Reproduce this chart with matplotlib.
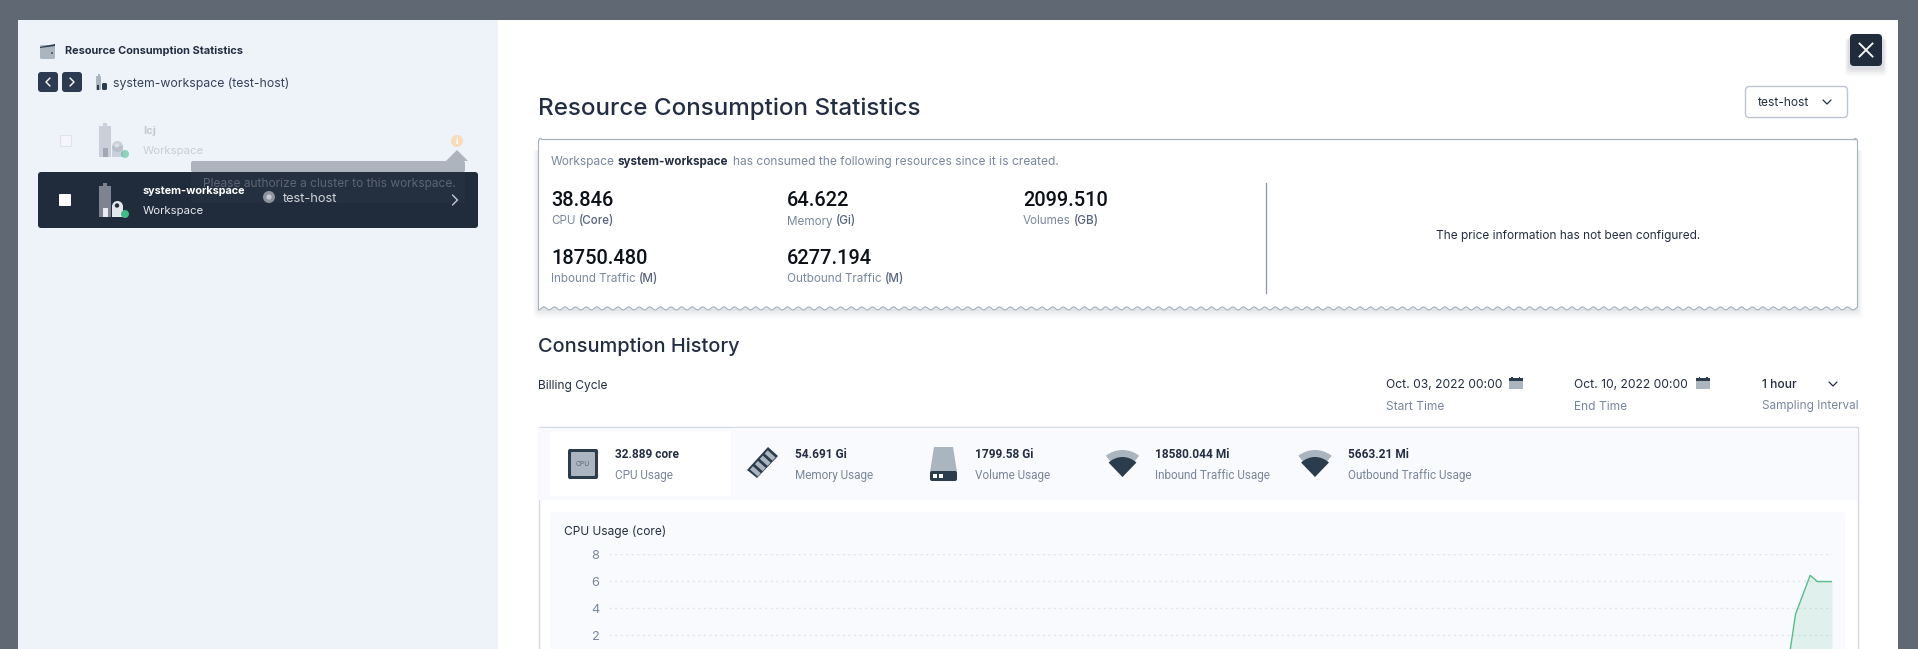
import matplotlib
matplotlib.use("Agg")
import matplotlib.pyplot as plt
import numpy as np
from matplotlib.patches import Rectangle, FancyBboxPatch, Polygon, Circle, Wedge

plt.rcParams['font.family'] = ['Inter', 'DejaVu Sans']
NUM_FONT = ['Roboto', 'DejaVu Sans']

# ---- data ----
hours = [0, 162, 163, 165, 166, 168]
cpu_usage = [0, 0, 3.58, 6.44, 5.98, 5.98]
y_ticks = [2, 4, 6, 8]
summary_values = ['38.846', '64.622', '2099.510', '18750.480', '6277.194']
summary_names = ['CPU', 'Memory', 'Volumes', 'Inbound Traffic', 'Outbound Traffic']
summary_units = ['(Core)', '(Gi)', '(GB)', '(M)', '(M)']
tab_values = ['32.889 core', '54.691 Gi', '1799.58 Gi', '18580.044 Mi', '5663.21 Mi']
tab_names = ['CPU Usage', 'Memory Usage', 'Volume Usage', 'Inbound Traffic Usage', 'Outbound Traffic Usage']

W, H = 1918, 649
DARK = '#202b3c'
TXT = '#242e42'
MUTE = '#79879c'
ICON_G = '#abb5bf'
ICON_D = '#2b3c4d'

fig = plt.figure(figsize=(W / 100, H / 100), dpi=100, facecolor='#5f6873')
bg = fig.add_axes([0, 0, 1, 1])
bg.set_xlim(0, W)
bg.set_ylim(H, 0)
bg.axis('off')


def rect(x0, y0, x1, y1, fc='none', ec='none', lw=0, r=0, z=1, alpha=None):
    if r:
        p = FancyBboxPatch((x0 + r, y0 + r), x1 - x0 - 2 * r, y1 - y0 - 2 * r,
                           boxstyle=f'round,pad={r},rounding_size={r}',
                           fc=fc, ec=ec, lw=lw, zorder=z, alpha=alpha)
    else:
        p = Rectangle((x0, y0), x1 - x0, y1 - y0, fc=fc, ec=ec, lw=lw, zorder=z, alpha=alpha)
    bg.add_patch(p)
    return p


def text(x, y, s, size=8.6, color=TXT, weight='normal', ha='left', z=6, alpha=None, family=None):
    return bg.text(x, y, s, fontsize=size, color=color, fontweight=weight, ha=ha,
                   va='center_baseline', zorder=z, alpha=alpha, family=family)


def chevron(cx, cy, d, s=4, color='white', lw=1.0, z=6):
    if d == 'l':
        xs, ys = [cx + s / 2, cx - s / 2, cx + s / 2], [cy - s, cy, cy + s]
    elif d == 'r':
        xs, ys = [cx - s / 2, cx + s / 2, cx - s / 2], [cy - s, cy, cy + s]
    else:
        xs, ys = [cx - s, cx, cx + s], [cy - s / 2, cy + s / 2, cy - s / 2]
    bg.plot(xs, ys, color=color, lw=lw, zorder=z, solid_capstyle='round')


def building(x, y, light=False, alpha=1.0, z=4):
    body = '#abb5bf' if not light else '#7d848f'
    lock = '#abb5bf' if not light else '#e3e6ea'
    bg.add_patch(Polygon([(x, y + 3), (x + 4, y + 3), (x + 4, y), (x + 8, y), (x + 8, y + 3),
                          (x + 12, y + 3), (x + 12, y + 34), (x, y + 34)],
                         fc=body, zorder=z, alpha=alpha))
    rect(x + 4, y + 25, x + 9, y + 34, fc='#e9ebee' if light else '#7f8a96', z=z + 1, alpha=alpha)
    rect(x + 13, y + 23, x + 24, y + 34, fc=lock, z=z + 1, alpha=alpha)
    bg.add_patch(Circle((x + 18.5, y + 23.5), 5.5, fc=lock, zorder=z + 1, alpha=alpha))
    bg.add_patch(Circle((x + 18, y + 22.5), 2.2, fc=DARK if light else '#eef2f9', zorder=z + 2, alpha=alpha))
    bg.add_patch(Circle((x + 26, y + 31), 4, fc='#3ebd86', zorder=z + 2, alpha=alpha))


# ---- panels ----
rect(18, 20, 498, H, fc='#eef2f9')
rect(498, 20, 1898, H, fc='white')

# ---- left side ----
rect(40, 45, 55, 59, fc=ICON_G, r=1.5, z=3)
bg.add_patch(Polygon([(40, 47), (55, 44), (55, 46), (40, 48)], fc=ICON_D, zorder=4))
bg.add_patch(Circle((52, 53), 0.9, fc=ICON_D, zorder=4))
text(65, 50, 'Resource Consumption Statistics', size=7.9, weight='bold')

for x0 in (38, 62):
    rect(x0, 72, x0 + 20, 92, fc='#2c3a52', r=3, z=3)
chevron(48, 82, 'l', s=4)
chevron(72, 82, 'r', s=4)
rect(96, 76, 101, 90, fc=ICON_G, r=1, z=3)
rect(97.5, 74, 99.5, 77, fc=ICON_G, z=3)
rect(97, 85, 99, 90, fc=ICON_D, z=4)
rect(102, 83, 107, 90, fc=ICON_D, r=1.5, z=4)
text(113, 82, 'system-workspace (test-host)', size=8.85, color='#36435c')

# faded row
rect(59.5, 134.5, 70.5, 145.5, fc='#f4f6fb', ec='#dfe3ea', lw=0.8, z=3)
building(99, 123, alpha=0.55)
text(143, 130, 'lcj', size=8.2, color='#c4cad3', weight='bold')
text(143, 150, 'Workspace', size=8.2, color='#c9ced7')
bg.add_patch(Circle((457, 141), 6, fc='#f7dcbc', zorder=3))
text(457, 141, 'i', size=6.5, color='white', weight='bold', ha='center')

# active row
rect(38, 172, 478, 228, fc=DARK, r=3, z=2)
rect(59, 194, 71, 206, fc='white', r=1, z=3)
building(99, 183, light=True)
text(143, 190, 'system-workspace', size=7.85, color='white', weight='bold')
text(143, 210, 'Workspace', size=8.2, color='#e6e9ee')
bg.add_patch(Circle((269, 197), 6, fc='#8c929c', zorder=4))
bg.add_patch(Circle((269, 197), 2.6, fc='#c5c8cd', zorder=5))
text(283, 198, 'test-host', size=9.2, color='#cfd3d9')
chevron(455, 200, 'r', s=5, color='#c5c8cd')

# tooltip
rect(191, 161, 465, 172, fc='#adb4be', r=2, z=5)
rect(191, 172, 465, 203, fc='white', z=5, alpha=0.02)
bg.add_patch(Polygon([(446, 161), (457, 150), (468, 161)], fc='#adb4be', zorder=5))
text(203, 183, 'Please authorize a cluster to this workspace.', size=8.6, color='#5d6573')

# ---- header ----
for i, a in enumerate((0.05, 0.05, 0.04, 0.03)):
    rect(1850 - 2 - i, 38, 1882 + 2 + i, 70 + 2 * i, fc='#36435c', r=5, z=3, alpha=a)
rect(1850, 34, 1882, 66, fc=DARK, r=4, z=4)
bg.plot([1859.5, 1872.5], [43.5, 56.5], color='white', lw=1.3, zorder=5)
bg.plot([1859.5, 1872.5], [56.5, 43.5], color='white', lw=1.3, zorder=5)
text(538, 106, 'Resource Consumption Statistics', size=17.4, weight='medium')
rect(1745.5, 86.5, 1847.5, 117.5, fc='white', ec='#bcc5cf', lw=1.0, r=4, z=3)
text(1758, 102, 'test-host', size=8.6)
chevron(1827, 102, 'd', s=4, color=TXT, lw=0.9)

# ---- summary box (the torn lower edge is a decoration) ----
for i, a in enumerate((0.035, 0.03, 0.025, 0.02, 0.015, 0.01)):
    rect(538 - i, 150, 1858 + i, 311 + i * 1.5, fc='#36435c', r=3, z=2, alpha=a)
wave_x = np.arange(538.5, 1857.6, 0.5)
wave_y = 308.4 + 1.5 * np.cos((wave_x - 538.5) * 2 * np.pi / 10.6)
bg.fill(np.r_[538.5, wave_x, 1857.5], np.r_[140, wave_y, 140], fc='white', zorder=3)
rect(538.5, 138.5, 1857.5, 160, fc='white', ec='none', r=3, z=3)
bg.plot(np.r_[538.5, 538.5, wave_x, 1857.5, 1857.5], np.r_[141, wave_y[0], wave_y, wave_y[-1], 141],
        color='#a6b1bf', lw=0.8, zorder=4)
bg.plot([541, 1855], [138.5, 138.5], color='#a6b1bf', lw=0.9, zorder=4)
bg.plot([538.5, 539.2, 541], [141, 139.2, 138.5], color='#a6b1bf', lw=0.9, zorder=4)
bg.plot([1855, 1856.8, 1857.5], [138.5, 139.2, 141], color='#a6b1bf', lw=0.9, zorder=4)

text(551, 161, 'Workspace', size=8.6, color=MUTE)
text(618, 161, 'system-workspace', size=8.4, color=TXT, weight='bold')
text(733, 161, 'has consumed the following resources since it is created.', size=8.6, color=MUTE)
pos = [(551, 199), (787, 199), (1023, 199), (551, 256), (787, 256)]
for (x, y), v, n, u in zip(pos, summary_values, summary_names, summary_units):
    text(x, y, v, size=14.4, color='#0c1118', weight='medium', family=NUM_FONT)
    t = text(x, y + 21, n, size=8.4, color=MUTE)
    bb = t.get_window_extent(fig.canvas.get_renderer())
    text(bb.x1 + 3, y + 21, u, size=8.4, color='#55647c', weight='medium')
bg.plot([1266, 1266], [183, 293], color='#8d96a3', lw=0.9, zorder=4)
text(1568.5, 235, 'The price information has not been configured.', size=8.5, ha='center')

# ---- history ----
text(538, 345, 'Consumption History', size=14.35, weight='medium')
text(538, 384, 'Billing Cycle', size=8.6)
for x, v, lab, ix in ((1386.5, 'Oct. 03, 2022 00:00', 'Start Time', 1508.5),
                      (1574.5, 'Oct. 10, 2022 00:00', 'End Time', 1696)):
    text(x, 384, v, size=8.7)
    text(x, 405, lab, size=8.6, color=MUTE)
    rect(ix, 380, ix + 14, 389, fc=ICON_G, z=3)
    rect(ix, 378, ix + 14, 380.5, fc=ICON_D, z=4)
    rect(ix + 2.5, 377, ix + 4, 379, fc=ICON_D, z=4)
    rect(ix + 10, 377, ix + 11.5, 379, fc=ICON_D, z=4)
text(1762, 384, '1 hour', size=8.7, weight='medium')
chevron(1833, 384, 'd', s=4, color=TXT, lw=0.9)
text(1762, 404, 'Sampling Interval', size=8.5, color=MUTE)

# ---- chart box ----
rect(538.5, 427, 1857.5, H + 5, fc='white', ec='#d3dae2', lw=1.0, z=2)
rect(539, 427.5, 1857, 500, fc='#f8fafd', z=3)
rect(550, 431, 731, 496, fc='white', z=4)
rect(550, 512, 1845, H + 5, fc='#f9fafe', r=3, z=3)
text(564, 530, 'CPU Usage (core)', size=8.6)

tab_x = [615, 795, 975, 1155, 1348]
for x, v, n in zip(tab_x, tab_values, tab_names):
    text(x, 453, v, size=8.6, weight='bold', family=NUM_FONT)
    text(x, 474, n, size=8.45, color=MUTE, family=NUM_FONT)

# cpu icon
rect(568, 449, 598, 479, fc=ICON_D, r=2, z=5)
rect(571, 452, 595, 476, fc=ICON_G, r=1, z=6)
text(583, 464, 'CPU', size=4.8, color='#5e6b78', ha='center', z=7)
# memory icon
bg.add_patch(Polygon([(747, 470), (768, 447), (778, 456), (757, 478)], fc=ICON_D, zorder=5))
for k in range(4):
    dx, dy = 4.9 * k, -5.3 * k
    bg.add_patch(Polygon([(750 + dx, 469.5 + dy), (753 + dx, 466.2 + dy), (760.8 + dx, 473.2 + dy),
                          (757.8 + dx, 476.5 + dy)], fc=ICON_G, zorder=6))
# volume icon
bg.add_patch(Polygon([(934, 447), (953, 447), (957, 472), (930, 472)], fc=ICON_G, zorder=5))
rect(930, 471, 957, 481, fc=ICON_D, r=2, z=6)
rect(933, 474, 937, 478, fc='white', z=7)
rect(939, 474, 943, 478, fc='white', z=7)
# wifi icons
for cx, cy in ((1122.5, 477), (1315, 477)):
    bg.add_patch(Wedge((cx, cy), 27, 232, 308, fc=ICON_G, zorder=5))
    bg.add_patch(Wedge((cx, cy), 20, 226, 314, fc=ICON_D, zorder=6))

# ---- chart: y = 0 lies below the figure edge, as in the reference ----
px_per_unit = 13.5
y_top, y_zero = 554.3, 662.3
y_low = (y_zero - H) / px_per_unit
ax = fig.add_axes([609 / W, 0, (1832 - 609) / W, (H - y_top) / H], facecolor='none', zorder=10)
ax.set_xlim(0, 168)
ax.set_ylim(y_low, 8)
for s in ax.spines.values():
    s.set_visible(False)
ax.set_xticks([])
ax.set_yticks(y_ticks)
ax.tick_params(axis='y', length=0, pad=7, labelsize=9.2, labelcolor='#79879c')
ax.grid(axis='y', color='#e2e4e9', lw=1.0, linestyle=(0, (1.5, 2.5)))
ax.set_axisbelow(True)
for t in ax.get_yticklabels():
    t.set_clip_on(False)
ax.fill_between(hours, cpu_usage, 0, color='#55bc8a', alpha=0.15, lw=0)
ax.plot(hours, cpu_usage, color='#55bc8a', lw=1.0, clip_on=True)

fig.savefig('out.png', dpi=100, facecolor=fig.get_facecolor())
